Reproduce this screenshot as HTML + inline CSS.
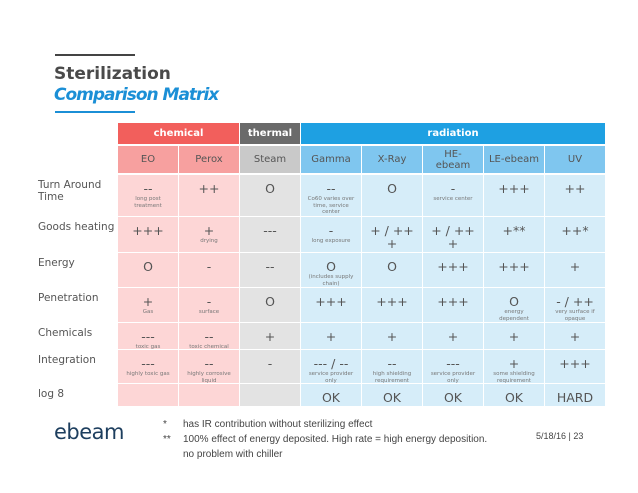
<!DOCTYPE html>
<html><head><meta charset="utf-8">
<style>
body{margin:0;width:638px;height:493px;background:#fff;position:relative;overflow:hidden;font-family:"DejaVu Sans","Liberation Sans",sans-serif;color:#555}
.a{position:absolute}
.c{position:absolute;box-sizing:border-box;text-align:center;overflow:hidden}
.v{font-size:12.5px;line-height:13px;color:#555;margin-top:7px}
.n{font-size:5.5px;line-height:6.5px;color:#777;margin-top:1px}
.lab{position:absolute;left:38px;font-size:10.5px;line-height:12px;color:#555}
</style></head><body>
<div class="a" style="left:55px;top:54px;width:80px;height:2px;background:#444"></div>
<div class="a" style="left:54px;top:64px;font:bold 17px 'DejaVu Sans',sans-serif;color:#4a4a4a">Sterilization</div>
<div class="a" style="left:54px;top:85px;font:italic bold 17px 'DejaVu Sans',sans-serif;color:#1b8fd6;letter-spacing:-1px">Comparison Matrix</div>
<div class="a" style="left:55px;top:111px;width:80px;height:2px;background:#1b8fd6"></div>
<div id="tbl"></div>
<div class="a" style="left:54px;top:420px;font:21px 'DejaVu Sans',sans-serif;color:#1d3e5e;letter-spacing:-0.5px">ebeam</div>
<div class="a" style="left:163px;top:417px;font:10px 'Liberation Sans',sans-serif;color:#444;line-height:15px">
<div><span style="display:inline-block;width:20px">*</span>has IR contribution without sterilizing effect</div>
<div><span style="display:inline-block;width:20px">**</span>100% effect of energy deposited. High rate = high energy deposition.</div>
<div><span style="display:inline-block;width:20px"></span>no problem with chiller</div>
</div>
<div class="a" style="left:536px;top:431px;font:9px 'Liberation Sans',sans-serif;color:#444">5/18/16 | 23</div>
<script>
const cols=["EO","Perox","Steam","Gamma","X-Ray","HE-<br>ebeam","LE-ebeam","UV"];
const groups=[["chemical",0,2],["thermal",2,3],["radiation",3,8]];
const rowLabels=["Turn Around<br>Time","Goods heating","Energy","Penetration","Chemicals","Integration","log 8"];
const values=[
["--","++","O","--","O","-","+++","++"],
["+++","+","---","-","+ / ++<br>+","+ / ++<br>+","+**","++*"],
["O","-","--","O","O","+++","+++","+"],
["+","-","O","+++","+++","+++","O","- / ++"],
["---","--","+","+","+","+","+","+"],
["---","--","-","--- / --","--","---","+","+++"],
["","","","OK","OK","OK","OK","HARD"]];
const notes=[
["long post<br>treatment","","","Co60 varies over<br>time, service<br>center","","service center","",""],
["","drying","","long exposure","","","",""],
["","","","(includes supply<br>chain)","","","",""],
["Gas","surface","","","","","energy<br>dependent","very surface if<br>opaque"],
["toxic gas","toxic chemical","","","","","",""],
["highly toxic gas","highly corrosive<br>liquid","","service provider<br>only","high shielding<br>requirement","service provider<br>only","some shielding<br>requirement",""],
["","","","","","","",""]];
const rowY=[174,216,252,287,322,349,383,406];
const x0=118,cw=61;
const grpCol={chemical:"#f25f5c",thermal:"#6a6a6a",radiation:"#1ea0e2"};
const hdrCol=i=>i<2?"#f7a09f":i==2?"#c9c9c9":"#7fc6ef";
const bodyCol=i=>i<2?"#fdd6d6":i==2?"#e3e3e3":"#d6edf9";
const T=document.getElementById('tbl');
function cell(x,y,w,h,bg){const d=document.createElement('div');d.className='c';d.style.cssText+=`left:${x}px;top:${y}px;width:${w}px;height:${h}px;background:${bg}`;T.appendChild(d);return d;}
groups.forEach(g=>{const d=cell(x0+g[1]*cw,123,(g[2]-g[1])*cw-1,21,grpCol[g[0]]);


d.style.cssText+='color:#fff;font-weight:bold;font-size:10px;line-height:21px';d.textContent=g[0];});
cols.forEach((c,i)=>{const d=cell(x0+i*cw,146,cw-1,27,hdrCol(i));


d.style.cssText+='color:#555;font-size:10px;line-height:11px;padding-top:'+(i==5?3:8)+'px';d.innerHTML=c;});
rowLabels.forEach((l,r)=>{const lb=document.createElement('div');lb.className='lab';lb.style.top=(rowY[r]+5)+'px';lb.innerHTML=l;


T.appendChild(lb);
for(let i=0;i<8;i++){const d=cell(x0+i*cw,rowY[r]+1,cw-1,rowY[r+1]-rowY[r]-1,bodyCol(i));


d.innerHTML='<div class="v">'+values[r][i]+'</div>'+(notes[r][i]?'<div class="n">'+notes[r][i]+'</div>':'');}});
</script>
</body></html>
